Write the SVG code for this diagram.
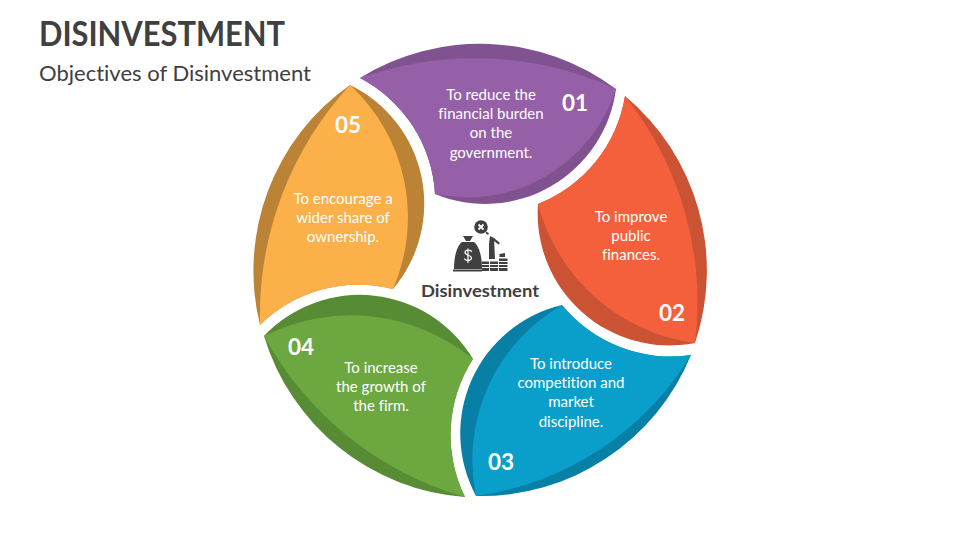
<svg xmlns="http://www.w3.org/2000/svg" width="960" height="540" viewBox="0 0 960 540">
<style>
text{font-family:Lato,"Open Sans","Liberation Sans",sans-serif;font-variant-ligatures:none}
.t{fill:#fff;font-size:15px;text-anchor:middle}
.n{fill:#fff;font-size:22.500px;font-weight:700;text-anchor:middle}
.k{fill:#404040}
.ic{fill:#404040}
</style>
<rect width="960" height="540" fill="#fff"/>
<g id="title">
<text class="k" x="39" y="46" font-size="35" font-weight="700" textLength="246" lengthAdjust="spacingAndGlyphs">DISINVESTMENT</text>
<text class="k" x="39" y="81" font-size="21" textLength="272" lengthAdjust="spacingAndGlyphs">Objectives of Disinvestment</text>
</g>
<g id="node-01">
<path fill="#80528F" d="M360,78A227,227 0 0 1 616,89A132,132 0 0 1 435,194A140,140 0 0 0 360,78Z"/>
<path fill="#9660A8" d="M360,78A340,340 0 0 1 616,89A156,156 0 0 1 435,194A140,140 0 0 0 360,78Z"/>
<text class="t" x="491" y="100">To reduce the</text>
<text class="t" x="491" y="119">financial burden</text>
<text class="t" x="491" y="138">on the</text>
<text class="t" x="491" y="158">government.</text>
<text class="n" x="575" y="111">01</text>
</g>
<g id="node-02">
<path fill="#CB5233" d="M625,96A227,227 0 0 1 695,343A132,132 0 0 1 538,204A140,140 0 0 0 625,96Z"/>
<path fill="#F4603C" d="M625,96A330,330 0 0 1 695,343A188,188 0 0 1 538,204A140,140 0 0 0 625,96Z"/>
<text class="t" x="631" y="222">To improve</text>
<text class="t" x="631" y="241">public</text>
<text class="t" x="631" y="260">finances.</text>
<text class="n" x="672" y="321">02</text>
</g>
<g id="node-03">
<path fill="#087FA5" d="M691,355A227,227 0 0 1 476,496A132,132 0 0 1 562,305A140,140 0 0 0 691,355Z"/>
<path fill="#0A9FCB" d="M691,355A299,299 0 0 1 476,496A179,179 0 0 1 562,305A140,140 0 0 0 691,355Z"/>
<text class="t" x="571" y="369">To introduce</text>
<text class="t" x="571" y="388">competition and</text>
<text class="t" x="571" y="407">market</text>
<text class="t" x="571" y="427">discipline.</text>
<text class="n" x="501" y="470">03</text>
</g>
<g id="node-04">
<path fill="#578B34" d="M465,497A227,227 0 0 1 264,336A132,132 0 0 1 473,359A140,140 0 0 0 465,497Z"/>
<path fill="#6CA83F" d="M465,497A333,333 0 0 1 264,336A193,193 0 0 1 473,359A140,140 0 0 0 465,497Z"/>
<text class="t" x="381" y="373">To increase</text>
<text class="t" x="381" y="392">the growth of</text>
<text class="t" x="381" y="411">the firm.</text>
<text class="n" x="301" y="355">04</text>
</g>
<g id="node-05">
<path fill="#BC8336" d="M260,325A227,227 0 0 1 350,85A132,132 0 0 1 393,289A140,140 0 0 0 260,325Z"/>
<path fill="#FBB04A" d="M260,325A340,340 0 0 1 350,85A180,180 0 0 1 393,289A140,140 0 0 0 260,325Z"/>
<text class="t" x="343" y="204">To encourage a</text>
<text class="t" x="343" y="223">wider share of</text>
<text class="t" x="343" y="242">ownership.</text>
<text class="n" x="348" y="133">05</text>
</g>
<g id="center">
<g id="icon">
<path class="ic" d="M463,236L473,236L470,241L466,241Z"/>
<path class="ic" d="M462,242L474,242C479,246 482,256 482,269L454,269C454,256 457,246 462,242Z"/>
<rect class="ic" x="453" y="269.500" width="29" height="2"/>
<path fill="none" stroke="#fff" stroke-width="1.200" d="M471.500,252C471,249.500 465,249.500 465,252.500C465,255.500 471.500,255 471.500,258C471.500,261 465,261 464.500,258.500M468,248.500V263"/>
<circle class="ic" cx="481" cy="227" r="6.800"/>
<path stroke="#fff" stroke-width="1.800" d="M478.500,224.500L483.500,229.500M483.500,224.500L478.500,229.500"/>
<path class="ic" d="M486.500,231.500L489,233.500L488,235L485.500,233Z"/>
<path class="ic" d="M490,236L494,238L495,259L489,259L489,244Z"/>
<path class="ic" d="M494,238L500,243L498.500,244.500L494,241Z"/>
<path class="ic" d="M482,261.500H489V264H482ZM482,265H489V267H482ZM482,268H489V271H482Z"/>
<path class="ic" d="M490,261.500H498V264H490ZM490,265H498V267H490ZM490,268H498V271H490Z"/>
<path class="ic" d="M499.500,254L505,253V257H499.500ZM499,258.500H507.500V261H499ZM499,262H507.500V264H499ZM499,265H507.500V267H499ZM499,268H507.500V271H499Z"/>
</g>
<text class="k" x="480" y="297" font-size="17" font-weight="700" text-anchor="middle" textLength="118" lengthAdjust="spacingAndGlyphs">Disinvestment</text>
</g>
</svg>
